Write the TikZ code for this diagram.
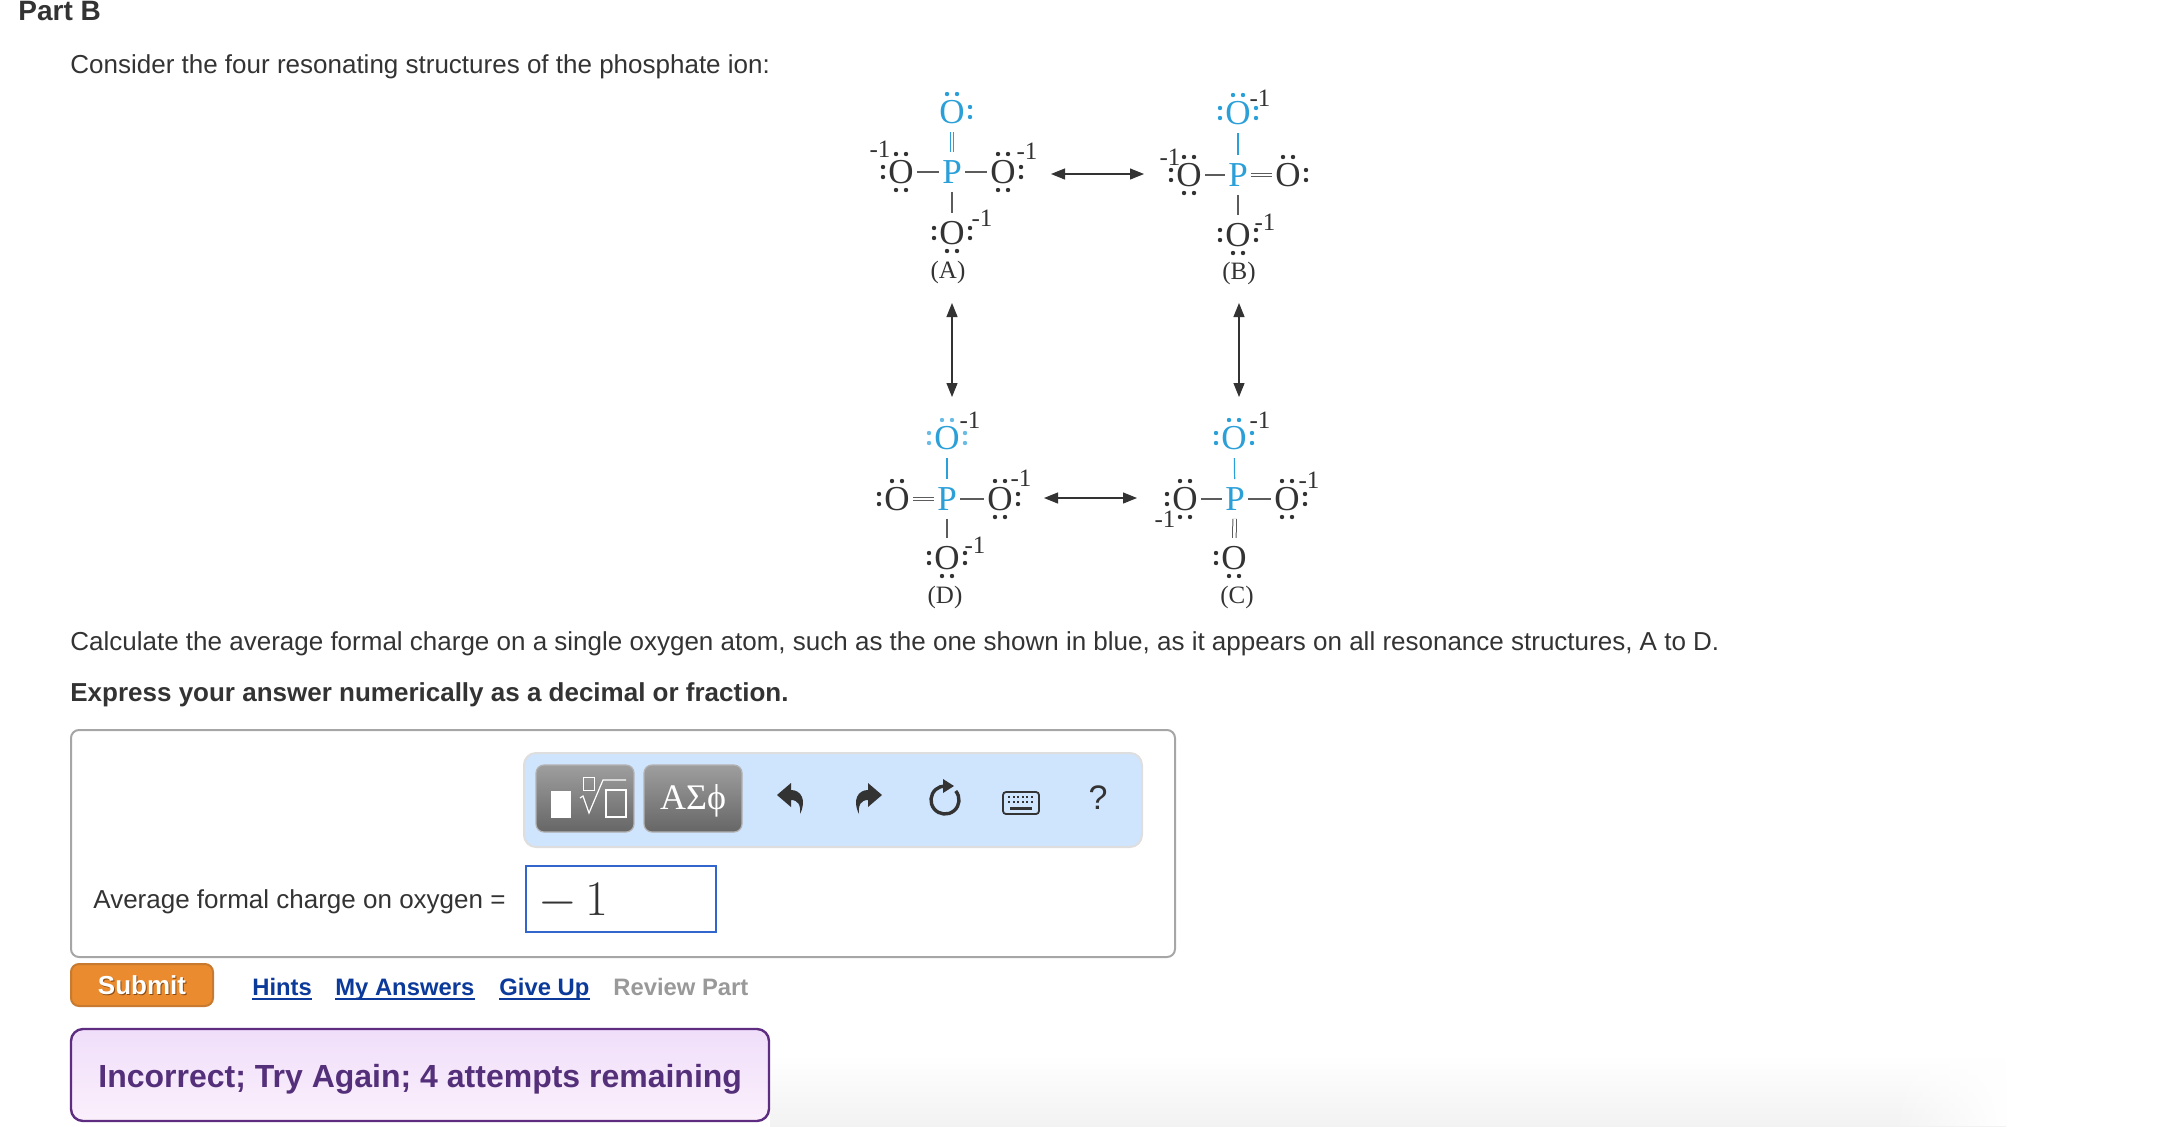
\documentclass[tikz,border=0pt]{standalone}
\usepackage{fontspec}
\setmainfont{Liberation Sans}
\newfontfamily\serifatom{Liberation Serif}
\usetikzlibrary{arrows.meta,calc,fadings}
\definecolor{ink}{HTML}{333333}
\definecolor{atomblue}{HTML}{2A9FD8}
\definecolor{linkblue}{HTML}{0B3A9A}
\definecolor{msgpurple}{HTML}{5E2D82}
\definecolor{msgtext}{HTML}{55307A}
\definecolor{msgtop}{HTML}{F0DEFA}
\definecolor{msgbot}{HTML}{FBF0FC}
\definecolor{barblue}{HTML}{CFE4FD}
\definecolor{fieldblue}{HTML}{3366CC}
\definecolor{subfill}{HTML}{E98B2E}
\definecolor{subline}{HTML}{C77A30}
\definecolor{subshade}{HTML}{8A4A10}
\tikzset{
  qtext/.style={anchor=base west,inner sep=0pt,text=ink,font=\fontsize{13}{16}\selectfont},
  qbold/.style={qtext,font=\fontsize{13}{16}\selectfont\bfseries},
  linktext/.style={qbold,text=linkblue,font=\fontsize{11.9}{16}\selectfont\bfseries},
  linkline/.style={linkblue,line width=0.8pt},
  atom/.style={inner xsep=1.5pt,inner ysep=4pt,text=ink,font=\serifatom\fontsize{17.5}{18}\selectfont},
  atomb/.style={atom,text=atomblue},
  chg/.style={inner sep=0pt,text=ink,font=\serifatom\fontsize{12.5}{13}\selectfont},
  lbl/.style={inner sep=0pt,text=ink,font=\serifatom\fontsize{12.5}{13}\selectfont},
  bond/.style={ink!80,line width=0.6pt},
  bondb/.style={atomblue,line width=0.6pt},
  dbl/.style={double,double distance=1.3pt,line width=0.5pt},
  arr/.style={ink,line width=0.6pt,{Stealth[length=7pt,width=5.5pt,inset=0pt]}-{Stealth[length=7pt,width=5.5pt,inset=0pt]}},
  toolbtn/.style={draw=black!30,line width=0.6pt,rounded corners=4pt,top color=black!38,bottom color=black!60},
  undoicon/.pic={\fill[ink] (-14,-2) -- (0,-14) -- (0,-7) .. controls (10,-7) and (16,3) .. (9,17) .. controls (10,8) and (7,3) .. (0,3) -- (0,10) -- cycle;}
}
\newcommand{\lonepairs}[3][ink]{%
  \foreach \a in {#3}{%
    \fill[#1] ($(#2)+(\a:18)+(\a+90:5)$) circle (1.1pt);
    \fill[#1] ($(#2)+(\a:18)+(\a-90:5)$) circle (1.1pt);
  }}
\begin{document}
\begin{tikzpicture}[x=0.5pt,y=-0.5pt]
  \useasboundingbox (0,0) rectangle (2174,1126);
  \shade[top color=white,bottom color=black!5,draw=none] (770,1055) rectangle (2006,1126);
  \fill[white,path fading=west] (1890,1055) rectangle (2006,1126);
  %header
  \node[qbold,font=\fontsize{14}{16}\selectfont\bfseries] (partb) at (18,20) {Part B};
  \node[qtext] (consider) at (70,73) {Consider the four resonating structures of the phosphate ion:};
  \node[qtext] (calc) at (70,650) {Calculate the average formal charge on a single oxygen atom, such as the one shown in blue, as it appears on all resonance structures, A to D.};
  \node[qbold] (express) at (70,701.5) {Express your answer numerically as a decimal or fraction.};
  %structure A
  \node[atomb] (aP) at (952,172) {P};
  \node[atomb] (aT) at (952,112) {O};
  \node[atom] (aL) at (901,172) {O};
  \node[atom] (aR) at (1003,172) {O};
  \node[atom] (aB) at (952,233) {O};
  \draw[bondb,dbl] (aT) -- (aP);
  \draw[bond] (aL) -- (aP);
  \draw[bond] (aP) -- (aR);
  \draw[bond] (aP) -- (aB);
  \lonepairs[atomblue]{aT}{0,270}
  \lonepairs{aL}{270,180,90}
  \lonepairs{aR}{270,0,90}
  \lonepairs{aB}{180,0,90}
  \node[chg] (aLc) at (880,149) {-1};
  \node[chg] (aRc) at (1027,151) {-1};
  \node[chg] (aBc) at (982,218) {-1};
  \node[lbl] (aN) at (948,272) {(A)};
  %structure B
  \node[atomb] (bP) at (1238,175) {P};
  \node[atomb] (bT) at (1238,113) {O};
  \node[atom] (bL) at (1189,175) {O};
  \node[atom] (bR) at (1288,175) {O};
  \node[atom] (bB) at (1238,235) {O};
  \draw[bondb] (bT) -- (bP);
  \draw[bond] (bL) -- (bP);
  \draw[bond,dbl] (bP) -- (bR);
  \draw[bond] (bP) -- (bB);
  \lonepairs[atomblue]{bT}{180,270,0}
  \lonepairs{bL}{270,180,90}
  \lonepairs{bR}{270,0}
  \lonepairs{bB}{180,0,90}
  \node[chg] (bTc) at (1260,98) {-1};
  \node[chg] (bLc) at (1170,157) {-1};
  \node[chg] (bBc) at (1265,222) {-1};
  \node[lbl] (bN) at (1239,273) {(B)};
  %structure D
  \node[atomb] (dP) at (947,499) {P};
  \node[atomb] (dT) at (947,438) {O};
  \node[atom] (dL) at (897,499) {O};
  \node[atom] (dR) at (1000,499) {O};
  \node[atom] (dB) at (947,558) {O};
  \draw[bondb] (dT) -- (dP);
  \draw[bond,dbl] (dL) -- (dP);
  \draw[bond] (dP) -- (dR);
  \draw[bond] (dP) -- (dB);
  \lonepairs[atomblue!70]{dT}{180,270,0}
  \lonepairs{dL}{270,180}
  \lonepairs{dR}{270,0,90}
  \lonepairs{dB}{180,0,90}
  \node[chg] (dTc) at (970,420) {-1};
  \node[chg] (dRc) at (1021,478) {-1};
  \node[chg] (dBc) at (975,545) {-1};
  \node[lbl] (dN) at (945,597) {(D)};
  %structure C
  \node[atomb] (cP) at (1235,499) {P};
  \node[atomb] (cT) at (1234,438) {O};
  \node[atom] (cL) at (1185,499) {O};
  \node[atom] (cR) at (1287,499) {O};
  \node[atom] (cB) at (1234,558) {O};
  \draw[bondb] (cT) -- (cP);
  \draw[bond] (cL) -- (cP);
  \draw[bond] (cP) -- (cR);
  \draw[bond,dbl] (cP) -- (cB);
  \lonepairs[atomblue]{cT}{180,270,0}
  \lonepairs{cL}{270,180,90}
  \lonepairs{cR}{270,0,90}
  \lonepairs{cB}{180,90}
  \node[chg] (cTc) at (1260,420) {-1};
  \node[chg] (cRc) at (1309,480) {-1};
  \node[chg] (cLc) at (1165,519) {-1};
  \node[lbl] (cN) at (1237,597) {(C)};
  %resonance arrows
  \coordinate (abW) at (1051,174);
  \coordinate (abE) at (1144,174);
  \coordinate (dcW) at (1044,498);
  \coordinate (dcE) at (1137,498);
  \coordinate (adN) at (952,303);
  \coordinate (adS) at (952,397);
  \coordinate (bcN) at (1239,303);
  \coordinate (bcS) at (1239,397);
  \draw[arr] (abW) -- (abE);
  \draw[arr] (dcW) -- (dcE);
  \draw[arr] (adN) -- (adS);
  \draw[arr] (bcN) -- (bcS);
  %answer panel
  \draw[black!35,line width=1pt,rounded corners=4pt] (71,730) rectangle (1175,957);
  \draw[black!13,fill=barblue,line width=1pt,rounded corners=6pt] (524,753) rectangle (1142,847);
  \path[toolbtn] (536,765) rectangle (634,832);
  \path[toolbtn] (644,765) rectangle (742,832);
  %root button
  \fill[white] (551,791) rectangle (571,818);
  \draw[white,line width=0.5pt] (583,777) rectangle (594,790);
  \draw[white,line width=0.6pt] (580,798) -- (583,796) -- (589,813) -- (603,780) -- (626,780);
  \draw[white,line width=0.6pt] (606,790) rectangle (626,817);
  \node[inner sep=0pt,text=white,font=\serifatom\fontsize{18}{20}\selectfont] (greek) at (693,801) {ΑΣϕ};
  %undo, redo, reload, keyboard
  \pic at (791,797) {undoicon};
  \pic[xscale=-1] at (868,797) {undoicon};
  \draw[ink,line width=1.7pt] (945,800) ++(-40:14) arc (-40:270:14);
  \fill[ink] (943,779) -- (954,786) -- (943,793) -- cycle;
  \draw[ink,line width=0.9pt,rounded corners=1.5pt] (1003,792) rectangle (1039,814);
  \foreach \i in {0,...,5} {
    \fill[ink] (1008+4.5*\i,796) rectangle ++(2,2);
    \fill[ink] (1008+4.5*\i,801) rectangle ++(2,2);
  }
  \fill[ink] (1010,807) rectangle (1032,809.5);
  \node[inner sep=0pt,text=ink,font=\fontsize{17}{20}\selectfont] (help) at (1098,798) {?};
  %answer field
  \node[qtext] (avg) at (93,908) {Average formal charge on oxygen =};
  \draw[fieldblue,line width=1pt] (526,866) rectangle (716,932);
  \node[inner sep=0pt,text=ink,font=\fontsize{25}{30}\selectfont,anchor=base west] (answer) at (538,915) {$-\,1$};
  %buttons and links
  \path[draw=subline,fill=subfill,line width=1pt,rounded corners=4pt] (71,964) rectangle (213,1006);
  \node[qbold,text=subshade,anchor=center] (submitb) at (143,986) {Submit};
  \node[qbold,text=white,anchor=center] (submit) at (142,985) {Submit};
  \node[linktext] (hints) at (252,995) {Hints};
  \node[linktext] (answers) at (335,995) {My Answers};
  \node[linktext] (giveup) at (499,995) {Give Up};
  \node[qbold,text=black!40,font=\fontsize{11.9}{16}\selectfont\bfseries] (review) at (613,995) {Review Part};
  \draw[linkline] ($(hints.base west)+(0,4)$) -- ($(hints.base east)+(0,4)$);
  \draw[linkline] ($(answers.base west)+(0,4)$) -- ($(answers.base east)+(0,4)$);
  \draw[linkline] ($(giveup.base west)+(0,4)$) -- ($(giveup.base east)+(0,4)$);
  %message
  \draw[msgpurple,line width=1.2pt,rounded corners=6pt,top color=msgtop,bottom color=msgbot] (71,1029) rectangle (769,1121);
  \node[qbold,text=msgtext,font=\fontsize{16}{20}\selectfont\bfseries] (msg) at (98,1087) {Incorrect; Try Again; 4 attempts remaining};
\end{tikzpicture}
\end{document}
